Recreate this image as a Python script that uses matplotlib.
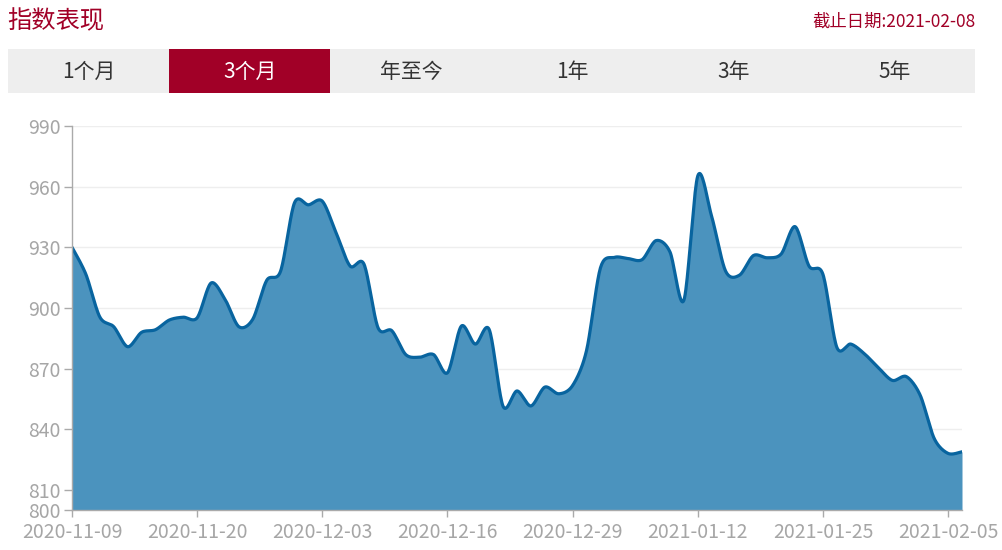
import matplotlib
matplotlib.use("Agg")
import matplotlib.pyplot as plt
from matplotlib.patches import Rectangle
import numpy as np

plt.rcParams['font.family'] = ['Noto Sans CJK SC', 'DejaVu Sans']

dates = [
    "2020-11-09", "2020-11-10", "2020-11-11", "2020-11-12", "2020-11-13",
    "2020-11-16", "2020-11-17", "2020-11-18", "2020-11-19", "2020-11-20",
    "2020-11-23", "2020-11-24", "2020-11-25", "2020-11-26", "2020-11-27",
    "2020-11-30", "2020-12-01", "2020-12-02", "2020-12-03", "2020-12-04",
    "2020-12-07", "2020-12-08", "2020-12-09", "2020-12-10", "2020-12-11",
    "2020-12-14", "2020-12-15", "2020-12-16", "2020-12-17", "2020-12-18",
    "2020-12-21", "2020-12-22", "2020-12-23", "2020-12-24", "2020-12-25",
    "2020-12-28", "2020-12-29", "2020-12-30", "2020-12-31", "2021-01-04",
    "2021-01-05", "2021-01-06", "2021-01-07", "2021-01-08", "2021-01-11",
    "2021-01-12", "2021-01-13", "2021-01-14", "2021-01-15", "2021-01-18",
    "2021-01-19", "2021-01-20", "2021-01-21", "2021-01-22", "2021-01-25",
    "2021-01-26", "2021-01-27", "2021-01-28", "2021-01-29", "2021-02-01",
    "2021-02-02", "2021-02-03", "2021-02-04", "2021-02-05", "2021-02-08",
]

values = [
    930.0, 916.6, 895.5, 890.7, 880.8, 887.9, 889.2, 894.0, 895.4, 895.1,
    912.3, 904.3, 890.7, 894.4, 913.6, 918.2, 952.0, 951.0, 952.8, 937.0,
    920.7, 921.6, 890.3, 888.7, 876.9, 875.6, 876.9, 867.9, 891.0, 882.1,
    889.3, 851.3, 858.9, 851.5, 860.8, 857.5, 861.6, 878.9, 919.8, 925.0,
    924.4, 923.9, 933.3, 927.7, 903.8, 965.3, 945.2, 918.2, 916.2, 925.9,
    924.8, 926.7, 940.2, 920.7, 916.6, 880.5, 882.1, 877.2, 870.3, 864.1,
    866.0, 856.7, 835.4, 828.0, 828.8,
]

yticks = [800, 810, 840, 870, 900, 930, 960, 990]
xtick_labels = ["2020-11-09", "2020-11-20", "2020-12-03", "2020-12-16",
                "2020-12-29", "2021-01-12", "2021-01-25", "2021-02-05"]
tabs = ["1个月", "3个月", "年至今", "1年", "3年", "5年"]
active_tab = "3个月"
title = "指数表现"
asof = "截止日期:2021-02-08"

W, H = 1002, 550
fig = plt.figure(figsize=(W / 100, H / 100), dpi=100)
fig.patch.set_facecolor("white")

def fx(px):
    return px / W

def fy(py):
    return 1 - py / H

RED = "#a10027"
fig.text(fx(7), fy(21), title, fontsize=17.5, color=RED, ha="left", va="center")
fig.text(fx(975), fy(22), asof, fontsize=12.5, color=RED, ha="right", va="center")

# tab bar
tab_left, tab_right, tab_top, tab_bot = 8, 975, 49, 93
tw = (tab_right - tab_left) / len(tabs)
fig.patches.append(Rectangle((fx(tab_left), fy(tab_bot)), fx(tab_right - tab_left),
                             (tab_bot - tab_top) / H, transform=fig.transFigure,
                             facecolor="#eeeeee", edgecolor="none", zorder=0))
for k, t in enumerate(tabs):
    x0 = tab_left + k * tw
    if t == active_tab:
        fig.patches.append(Rectangle((fx(x0), fy(tab_bot)), fx(tw),
                                     (tab_bot - tab_top) / H, transform=fig.transFigure,
                                     facecolor=RED, edgecolor="none", zorder=1))
        col = "white"
    else:
        col = "#333333"
    fig.text(fx(x0 + tw / 2), fy(72), t, fontsize=15, color=col,
             ha="center", va="center", zorder=2)

# chart
L, R, T, B = 72, 962, 126, 510
ax = fig.add_axes([fx(L), fy(B), fx(R - L), (B - T) / H])
n = len(values)
xs = np.arange(n, dtype=float)
ys = np.array(values)

# smooth bezier through points
def smooth_curve(x, y, s=0.15, m=20):
    px, py = [], []
    for i in range(len(x) - 1):
        p0 = np.array([x[i], y[i]])
        p3 = np.array([x[i + 1], y[i + 1]])
        prev = np.array([x[i - 1], y[i - 1]]) if i > 0 else p0
        nxt2 = np.array([x[i + 2], y[i + 2]]) if i + 2 < len(x) else p3
        c1 = p0 + s * (p3 - prev)
        c2 = p3 - s * (nxt2 - p0)
        t = np.linspace(0, 1, m, endpoint=False)[:, None]
        pts = ((1 - t) ** 3) * p0 + 3 * ((1 - t) ** 2) * t * c1 + 3 * (1 - t) * t ** 2 * c2 + t ** 3 * p3
        px.extend(pts[:, 0]); py.extend(pts[:, 1])
    px.append(x[-1]); py.append(y[-1])
    return np.array(px), np.array(py)

sx, sy = smooth_curve(xs, ys)
ax.fill_between(sx, 800, sy, color="#4b93be", linewidth=0, zorder=2)
ax.plot(sx, sy, color="#08649f", linewidth=2.3, zorder=3, solid_capstyle="round")

ax.set_xlim(0, n - 1)
ax.set_ylim(800, 990)
ax.set_yticks(yticks)
ax.set_yticklabels([str(v) for v in yticks])
tick_pos = [dates.index(d) for d in xtick_labels]
ax.set_xticks(tick_pos)
ax.set_xticklabels(xtick_labels)

for v in yticks[1:]:
    ax.axhline(v, color="#eeeeee", linewidth=1.0, zorder=1)

for side in ["top", "right"]:
    ax.spines[side].set_visible(False)
for side in ["left", "bottom"]:
    ax.spines[side].set_color("#aaaaaa")
    ax.spines[side].set_linewidth(1.0)
    ax.spines[side].set_zorder(4)

ax.tick_params(axis="both", colors="#aaaaaa", labelcolor="#a6a6a6", labelsize=14,
               width=1)
ax.tick_params(axis="y", pad=2, length=6)
ax.tick_params(axis="x", pad=4, length=5)
ax.set_facecolor("white")

fig.savefig("out.png", dpi=100, facecolor="white")
